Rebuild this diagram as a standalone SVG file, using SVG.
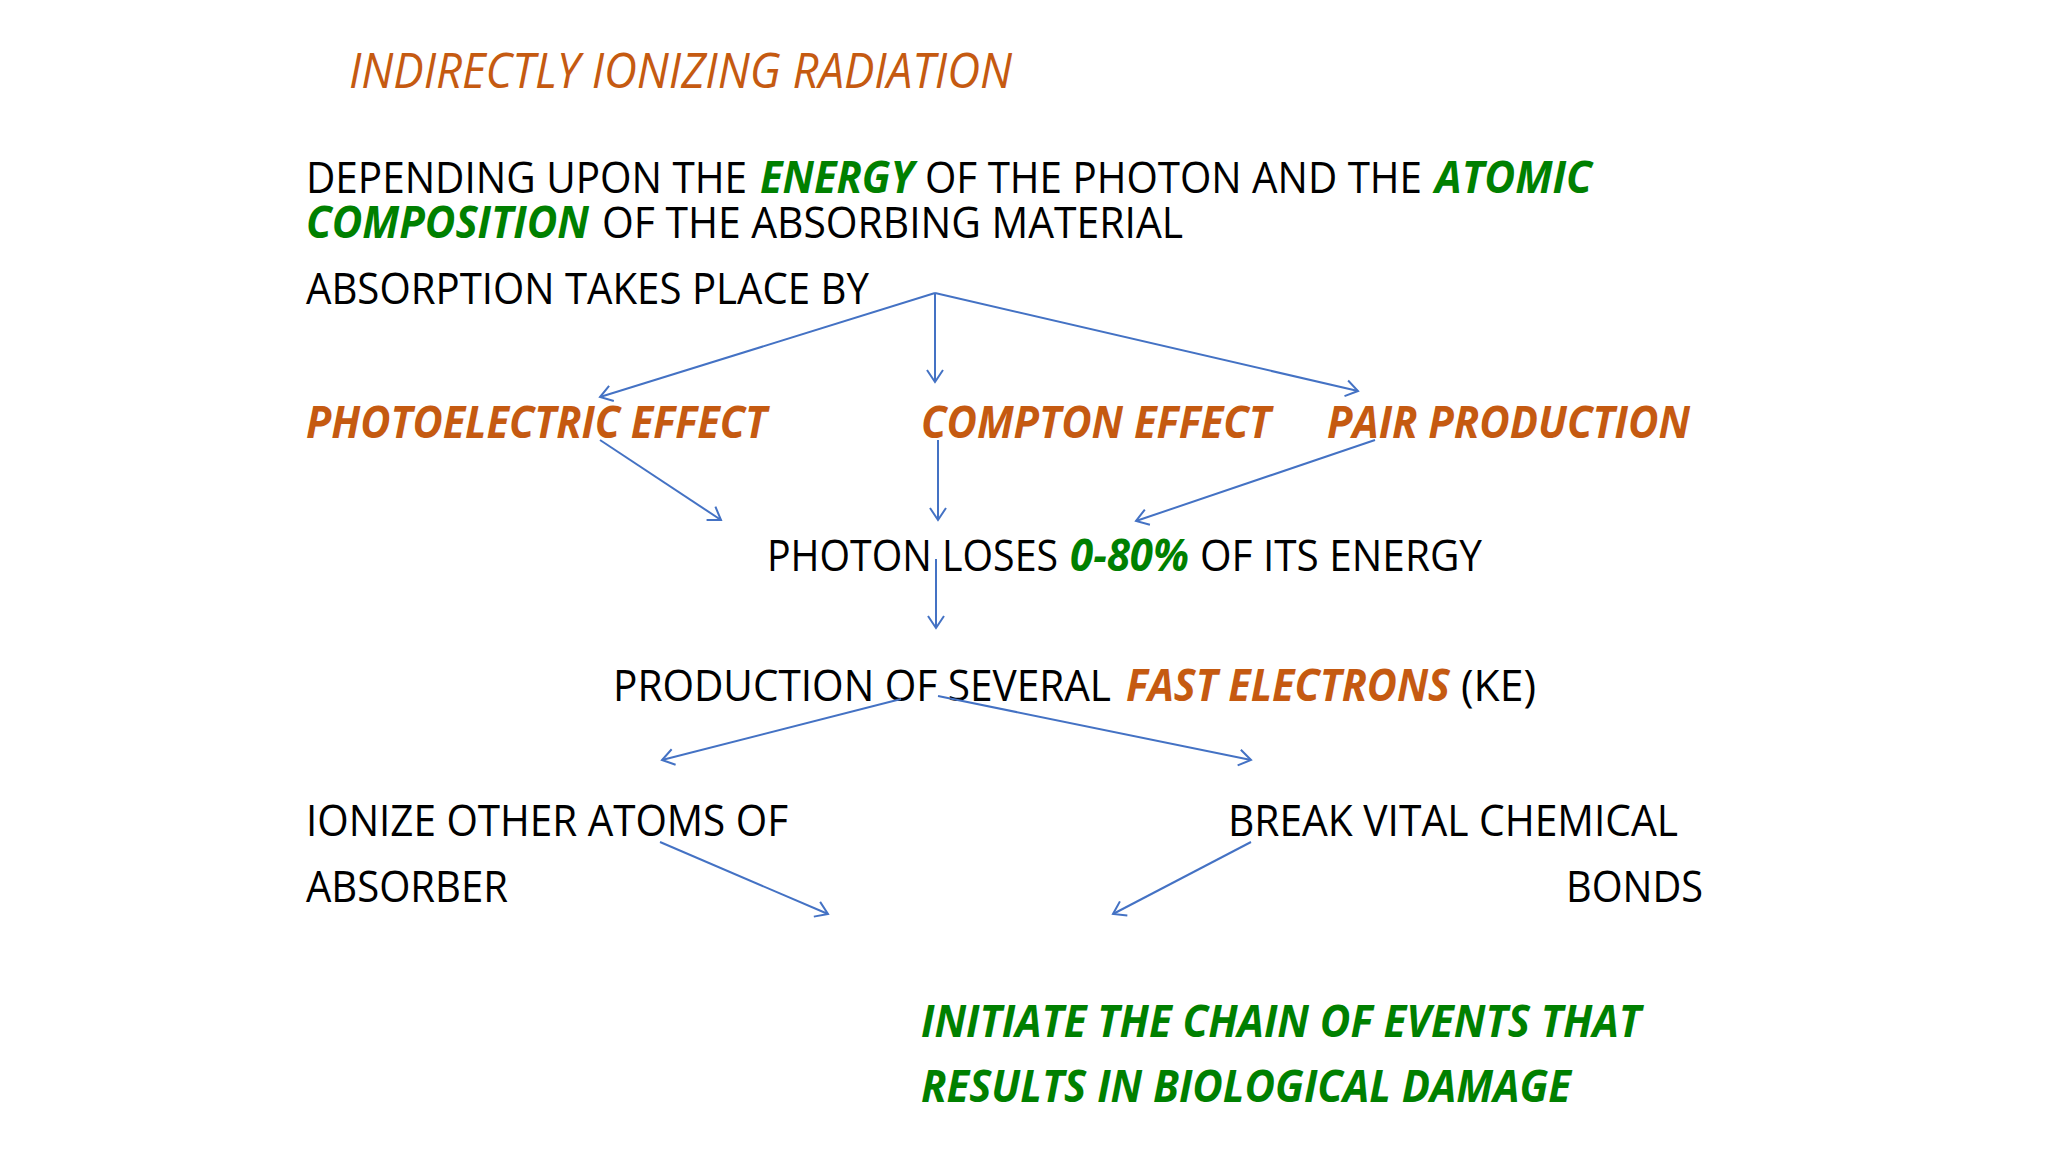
<svg xmlns="http://www.w3.org/2000/svg" width="2048" height="1152" viewBox="0 0 2048 1152">
<defs>
<style>
text{font-family:"Open Sans","Liberation Sans",sans-serif;font-size:44px;fill:#000;}
.t{fill:#C55A11;font-style:italic;font-size:49px;}
.o{fill:#C55A11;font-style:italic;font-weight:bold;}
.g{fill:#008000;font-style:italic;font-weight:bold;}
.c line{stroke:#4472C4;stroke-width:2;marker-end:url(#ah);}
</style>
<marker id="ah" markerWidth="24" markerHeight="24" refX="13" refY="12" orient="auto" markerUnits="userSpaceOnUse">
<path d="M1,4 L13,12 L1,20" fill="none" stroke="#4472C4" stroke-width="2"/>
</marker>
</defs>
<rect width="2048" height="1152" fill="#fff"/>
<g id="title"><text class="t" x="349" y="88" textLength="663" lengthAdjust="spacingAndGlyphs">INDIRECTLY IONIZING RADIATION</text></g>
<g id="intro">
<text><tspan x="306" y="193" textLength="441" lengthAdjust="spacingAndGlyphs">DEPENDING UPON THE</tspan><tspan class="g" x="760" y="193" textLength="154" lengthAdjust="spacingAndGlyphs">ENERGY</tspan><tspan x="925" y="193" textLength="497" lengthAdjust="spacingAndGlyphs">OF THE PHOTON AND THE</tspan><tspan class="g" x="1435" y="193" textLength="157" lengthAdjust="spacingAndGlyphs">ATOMIC</tspan><tspan class="g" x="306" y="238" textLength="283" lengthAdjust="spacingAndGlyphs">COMPOSITION</tspan><tspan x="602" y="238" textLength="581" lengthAdjust="spacingAndGlyphs">OF THE ABSORBING MATERIAL</tspan></text>
</g>
<g id="absorption"><text x="306" y="304" textLength="563" lengthAdjust="spacingAndGlyphs">ABSORPTION TAKES PLACE BY</text></g>
<g id="photoelectric"><text class="o" x="306" y="438" textLength="461" lengthAdjust="spacingAndGlyphs">PHOTOELECTRIC EFFECT</text></g>
<g id="compton"><text class="o" x="921" y="438" textLength="350" lengthAdjust="spacingAndGlyphs">COMPTON EFFECT</text></g>
<g id="pair"><text class="o" x="1327" y="438" textLength="363" lengthAdjust="spacingAndGlyphs">PAIR PRODUCTION</text></g>
<g id="loses">
<text><tspan x="767" y="571" textLength="291" lengthAdjust="spacingAndGlyphs">PHOTON LOSES</tspan><tspan class="g" x="1070" y="571" textLength="119" lengthAdjust="spacingAndGlyphs">0-80%</tspan><tspan x="1200" y="571" textLength="282" lengthAdjust="spacingAndGlyphs">OF ITS ENERGY</tspan></text>
</g>
<g id="production">
<text><tspan x="613" y="701" textLength="498" lengthAdjust="spacingAndGlyphs">PRODUCTION OF SEVERAL</tspan><tspan class="o" x="1126" y="701" textLength="324" lengthAdjust="spacingAndGlyphs">FAST ELECTRONS</tspan><tspan x="1461" y="701" textLength="75" lengthAdjust="spacingAndGlyphs">(KE)</tspan></text>
</g>
<g id="ionize">
<text x="306" y="836" textLength="482" lengthAdjust="spacingAndGlyphs">IONIZE OTHER ATOMS OF</text>
<text x="306" y="902" textLength="202" lengthAdjust="spacingAndGlyphs">ABSORBER</text>
</g>
<g id="break">
<text x="1228" y="836" textLength="450" lengthAdjust="spacingAndGlyphs">BREAK VITAL CHEMICAL</text>
<text x="1566" y="902" textLength="137" lengthAdjust="spacingAndGlyphs">BONDS</text>
</g>
<g id="initiate">
<text class="g" x="921" y="1037" textLength="720" lengthAdjust="spacingAndGlyphs">INITIATE THE CHAIN OF EVENTS THAT</text>
<text class="g" x="921" y="1102" textLength="650" lengthAdjust="spacingAndGlyphs">RESULTS IN BIOLOGICAL DAMAGE</text>
</g>
<g id="connectors" class="c">
<line x1="935" y1="293" x2="600" y2="397"/>
<line x1="935" y1="293" x2="935" y2="382"/>
<line x1="935" y1="293" x2="1358" y2="391"/>
<line x1="600" y1="440" x2="721" y2="520"/>
<line x1="938" y1="440" x2="938" y2="520"/>
<line x1="1375" y1="440" x2="1136" y2="521"/>
<line x1="936" y1="559" x2="936" y2="628"/>
<line x1="901" y1="699" x2="662" y2="760"/>
<line x1="938" y1="696" x2="1251" y2="760"/>
<line x1="660" y1="842" x2="828" y2="914"/>
<line x1="1251" y1="842" x2="1113" y2="914"/>
</g>
</svg>
